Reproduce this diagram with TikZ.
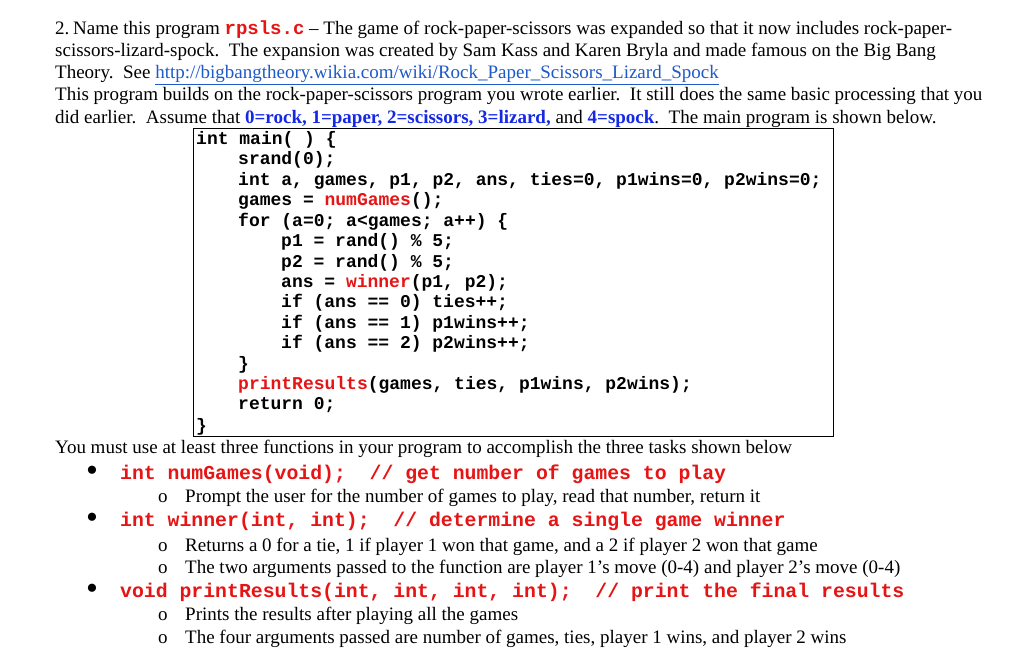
\documentclass[tikz,border=0pt]{standalone}
\usepackage{fontspec}
\setmainfont{Liberation Serif}
\setmonofont{Liberation Mono}
\definecolor{cred}{RGB}{230,20,20}
\definecolor{cblue}{RGB}{20,40,230}
\definecolor{clink}{RGB}{30,90,200}
\newcommand{\rc}[1]{\textcolor{cred}{\texttt{\bfseries #1}}}
\tikzset{tl/.style={anchor=base west,inner sep=0pt,font=\fontsize{19}{20}\selectfont},
 cl/.style={anchor=base west,inner sep=0pt,font=\fontsize{18}{18}\selectfont\ttfamily\bfseries},
 bl/.style={anchor=base west,inner sep=0pt,font=\fontsize{19.8}{20}\selectfont\ttfamily\bfseries,text=cred},
 bul/.style={anchor=center,inner sep=0pt,font=\fontsize{34}{34}\selectfont}}
\begin{document}
\begin{tikzpicture}[x=1pt,y=-1pt]
\useasboundingbox[fill=white] (0,0) rectangle (1024,666);
\node[tl] (n) at (55,35) {2.};
\node[tl] (l1) at (73,35) {Name this program \rc{rpsls.c} – The game of rock-paper-scissors was expanded so that it now includes rock-paper-};
\node[tl] (l2) at (55,57) {scissors-lizard-spock.\ \ The expansion was created by Sam Kass and Karen Bryla and made famous on the Big Bang};
\node[tl] (l3) at (55,79) {Theory.\ \ See \textcolor{clink}{\underline{http://bigbangtheory.wikia.com/wiki/Rock\_Paper\_Scissors\_Lizard\_Spock}}};
\node[tl] (l4) at (55,101) {This program builds on the rock-paper-scissors program you wrote earlier.\ \ It still does the same basic processing that you};
\node[tl] (l5) at (55,123) {did earlier.\ \ Assume that \textcolor{cblue}{\textbf{0=rock, 1=paper, 2=scissors, 3=lizard,}} and \textcolor{cblue}{\textbf{4=spock}}.\ \ The main program is shown below.};
\draw[thick] (193,128) rectangle (833,436);
\node[cl] (c1) at (196,144) {int main( ) \{};
\node[cl] (c2) at (238,164) {srand(0);};
\node[cl] (c3) at (238,185) {int a, games, p1, p2, ans, ties=0, p1wins=0, p2wins=0;};
\node[cl] (c4) at (238,205) {games = \textcolor{cred}{numGames}();};
\node[cl] (c5) at (238,226) {for (a=0; a<games; a++) \{};
\node[cl] (c6) at (281,246) {p1 = rand() \% 5;};
\node[cl] (c7) at (281,267) {p2 = rand() \% 5;};
\node[cl] (c8) at (281,287) {ans = \textcolor{cred}{winner}(p1, p2);};
\node[cl] (c9) at (281,307) {if (ans == 0) ties++;};
\node[cl] (c10) at (281,328) {if (ans == 1) p1wins++;};
\node[cl] (c11) at (281,348) {if (ans == 2) p2wins++;};
\node[cl] (c12) at (238,369) {\}};
\node[cl] (c13) at (238,389) {\textcolor{cred}{printResults}(games, ties, p1wins, p2wins);};
\node[cl] (c14) at (238,409) {return 0;};
\node[cl] (c15) at (196,431) {\}};
\node[tl] (t1) at (55,453) {You must use at least three functions in your program to accomplish the three tasks shown below};
\node[bul] (b1) at (92,474) {•}; \node[bl] (f1) at (120,479) {int numGames(void);\ \ // get number of games to play};
\node[tl] (o1) at (158,502) {o}; \node[tl] (s1) at (185,502) {Prompt the user for the number of games to play, read that number, return it};
\node[bul] (b2) at (92,521) {•}; \node[bl] (f2) at (120,526) {int winner(int, int);\ \ // determine a single game winner};
\node[tl] (o2) at (158,551) {o}; \node[tl] (s2) at (185,551) {Returns a 0 for a tie, 1 if player 1 won that game, and a 2 if player 2 won that game};
\node[tl] (o3) at (158,573) {o}; \node[tl] (s3) at (185,573) {The two arguments passed to the function are player 1’s move (0-4) and player 2’s move (0-4)};
\node[bul] (b3) at (92,592) {•}; \node[bl] (f3) at (120,597) {void printResults(int, int, int, int);\ \ // print the final results};
\node[tl] (o4) at (158,620) {o}; \node[tl] (s4) at (185,620) {Prints the results after playing all the games};
\node[tl] (o5) at (158,643) {o}; \node[tl] (s5) at (185,643) {The four arguments passed are number of games, ties, player 1 wins, and player 2 wins};
\end{tikzpicture}
\end{document}
